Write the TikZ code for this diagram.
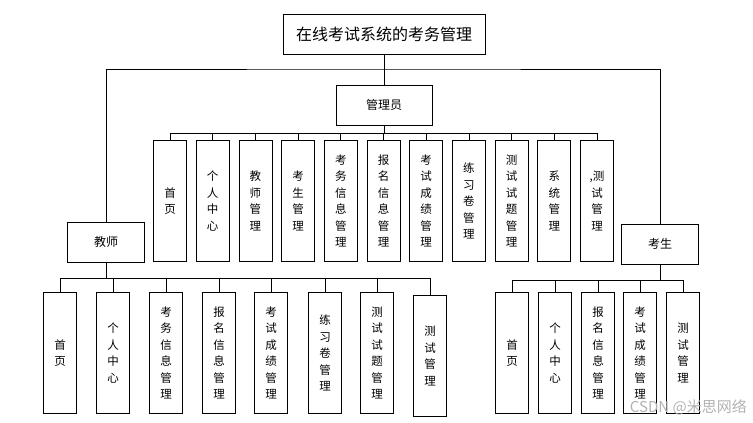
\documentclass[tikz,border=0pt]{standalone}
\usepackage{fontspec}
\setmainfont{Noto Sans CJK SC}
\begin{document}
\begin{tikzpicture}[x=1pt,y=-1pt,
    titlebox/.style={draw, thick, minimum width=202pt, minimum height=40pt, font=\fontsize{16}{18}\selectfont},
    rolebox/.style={draw, thick, minimum width=77pt, minimum height=40pt, font=\fontsize{12}{14}\selectfont},
    leafbox/.style={draw, thick, minimum width=33pt, minimum height=121pt, align=center, font=\fontsize{11.5}{16.5}\selectfont},
    bus/.style={thick}]
        \useasboundingbox (0,0) rectangle (753,423);

        %the main figure starts

        \node [titlebox] (top) at (384,34) {在线考试系统的考务管理};
        \node [rolebox, minimum width=96pt] (adm) at (384,105) {管理员};
        \node [rolebox] (teach) at (106,242) {教师};
        \node [rolebox] (stud) at (660,244) {考生};
        \coordinate (hub) at (384,69);

        \draw [bus] (top) -- (adm);
        \draw [bus] (teach.north) |- (hub) -| (stud.north);

        % admin leaves
        \foreach \t [count=\i] in {{首\\页},{个\\人\\中\\心},{教\\师\\管\\理},{考\\生\\管\\理},{考\\务\\信\\息\\管\\理},{报\\名\\信\\息\\管\\理},{考\\试\\成\\绩\\管\\理},{练\\习\\卷\\管\\理},{测\\试\\试\\题\\管\\理},{系\\统\\管\\理},{,测\\试\\管\\理}}{
            \node [leafbox] (a\i) at ({170+42.7*(\i-1)},201) {\t};
            \draw [bus] (adm.south) -- ++(0,8) -| (a\i.north);
        }

        % teacher leaves
        \foreach \t/\x [count=\i] in {{首\\页}/60,{个\\人\\中\\心}/113,{考\\务\\信\\息\\管\\理}/166,{报\\名\\信\\息\\管\\理}/219,{考\\试\\成\\绩\\管\\理}/271,{练\\习\\卷\\管\\理}/325,{测\\试\\试\\题\\管\\理}/377}{
            \node [leafbox] (t\i) at (\x,353) {\t};
            \draw [bus] (teach.south) -- ++(0,16) -| (t\i.north);
        }
        \node [leafbox] (t8) at (430,356) {测\\试\\管\\理};
        \draw [bus] (teach.south) -- ++(0,16) -| (t8.north);

        % student leaves
        \foreach \t/\x [count=\i] in {{首\\页}/512,{个\\人\\中\\心}/555,{报\\名\\信\\息\\管\\理}/598,{考\\试\\成\\绩\\管\\理}/640,{测\\试\\管\\理}/683}{
            \node [leafbox] (s\i) at (\x,353) {\t};
            \draw [bus] (stud.south) -- ++(0,16) -| (s\i.north);
        }

        \node [gray!60, font=\fontsize{15}{17}\selectfont, anchor=south east, inner sep=1pt] (mark) at (748,416) {CSDN @米思网络};
\end{tikzpicture}
\end{document}
